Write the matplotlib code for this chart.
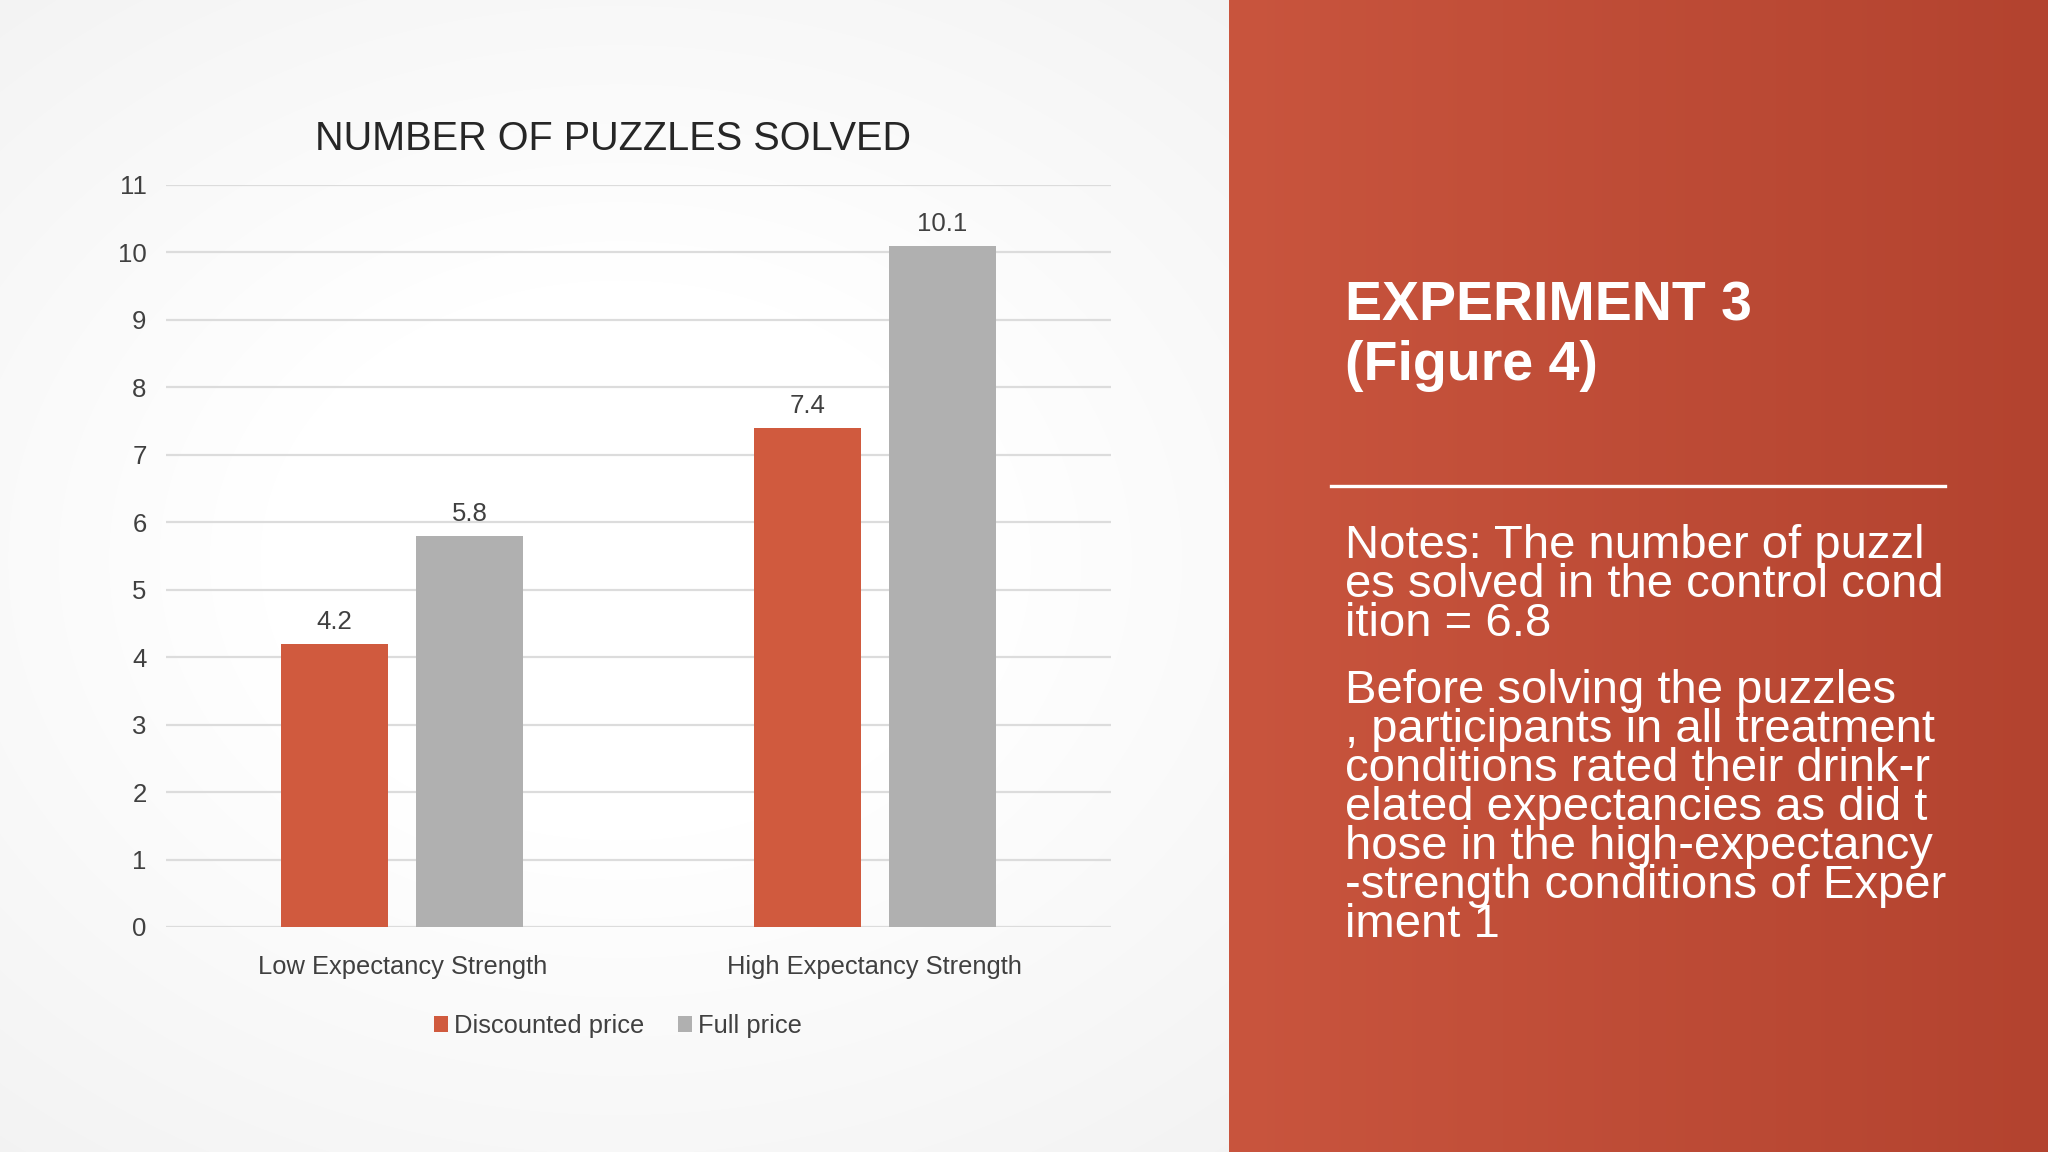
import numpy as np
import matplotlib
matplotlib.use("Agg")
import matplotlib.pyplot as plt

plt.rcParams['font.family'] = ['Liberation Sans', 'DejaVu Sans']

# data
categories = ["Low Expectancy Strength", "High Expectancy Strength"]
series_names = ["Discounted price", "Full price"]
discounted = [4.2, 7.4]
full_price = [5.8, 10.1]
y_ticks = list(range(0, 12))

chart_title = "NUMBER OF PUZZLES SOLVED"
side_title = ["EXPERIMENT 3", "(Figure 4)"]
note_lines = [
    "Notes: The number of puzzl",
    "es solved in the control cond",
    "ition = 6.8",
]
para_lines = [
    "Before solving the puzzles",
    ", participants in all treatment",
    "conditions rated their drink-r",
    "elated expectancies as did t",
    "hose in the high-expectancy",
    "-strength conditions of Exper",
    "iment 1",
]

orange = "#D05A3E"
gray = "#B0B0B0"
text_col = "#404040"

W, H = 2048, 1152
fig = plt.figure(figsize=(W / 100, H / 100), dpi=100)

# background: light left slide area + red gradient panel on the right
bg = fig.add_axes([0, 0, 1, 1], zorder=-10)
bg.axis('off')
yy, xx = np.mgrid[0:H, 0:W]
split = 1229
cx, cy = 620, 560
r = np.sqrt(((xx - cx) / 900.0) ** 2 + ((yy - cy) / 700.0) ** 2)
light = np.clip(1.0 - 0.07 * np.clip(r - 0.4, 0, None), 0.93, 1.0)
img = np.dstack([light, light, light])
t = np.clip((xx - split) / (W - split), 0, 1)
red_l = np.array([0xC9, 0x55, 0x3E]) / 255.0
red_r = np.array([0xB3, 0x43, 0x2F]) / 255.0
red = red_l[None, None, :] * (1 - t[..., None]) + red_r[None, None, :] * t[..., None]
mask = xx >= split
img[mask] = red[mask]
bg.imshow(img, extent=[0, 1, 0, 1], aspect='auto', origin='upper')
bg.set_xlim(0, 1)
bg.set_ylim(0, 1)

# chart
ax = fig.add_axes([166 / W, 1 - 927 / H, (1111 - 166) / W, (927 - 185) / H])
ax.patch.set_alpha(0)
x = np.arange(len(categories))
bw = 0.226
off = 0.143
b1 = ax.bar(x - off, discounted, bw, color=orange, label=series_names[0], zorder=3)
b2 = ax.bar(x + off, full_price, bw, color=gray, label=series_names[1], zorder=3)
for bars in (b1, b2):
    for rect in bars:
        h = rect.get_height()
        ax.annotate(f"{h:.1f}", (rect.get_x() + rect.get_width() / 2, h),
                    xytext=(0, 7), textcoords='offset points',
                    ha='center', va='bottom', fontsize=18.5, color=text_col)

ax.set_xlim(-0.5, 1.5)
ax.set_ylim(0, 11)
ax.set_yticks(y_ticks)
ax.set_yticklabels([str(v) for v in y_ticks], fontsize=18.5, color=text_col)
ax.set_xticks(x)
ax.set_xticklabels(categories, fontsize=18.4, color=text_col)
ax.tick_params(axis='both', length=0)
ax.tick_params(axis='y', pad=14)
ax.tick_params(axis='x', pad=20)
ax.grid(axis='y', color='#DCDCDC', linewidth=1.6, zorder=0)
for s in ax.spines.values():
    s.set_visible(False)

fig.text(613 / W, 1 - 139 / H, chart_title, ha='center', va='center',
         fontsize=28.5, color='#262626')

leg = ax.legend(loc='center', bbox_to_anchor=(618 / W, 1 - 1026 / H),
                bbox_transform=fig.transFigure, ncol=2, frameon=False,
                fontsize=18.4, handlelength=0.55, handleheight=0.55,
                handletextpad=0.25, columnspacing=1.3)
for t_ in leg.get_texts():
    t_.set_color(text_col)

# side panel text
fig.text(1345 / W, 1 - 321 / H, side_title[0], ha='left', va='baseline',
         fontsize=40, color='white', fontweight='bold')
fig.text(1345 / W, 1 - 380 / H, side_title[1], ha='left', va='baseline',
         fontsize=40, color='white', fontweight='bold')
fig.add_artist(plt.Line2D([1331 / W, 1945 / W], [1 - 486 / H, 1 - 486 / H],
                          color='white', linewidth=2.4))

y0 = 558
for i, line in enumerate(note_lines):
    fig.text(1345 / W, 1 - (y0 + 39 * i) / H, line, ha='left', va='baseline',
             fontsize=34, color='white')
y1 = 703
for i, line in enumerate(para_lines):
    fig.text(1345 / W, 1 - (y1 + 39 * i) / H, line, ha='left', va='baseline',
             fontsize=34, color='white')

fig.savefig("out.png", dpi=100)
